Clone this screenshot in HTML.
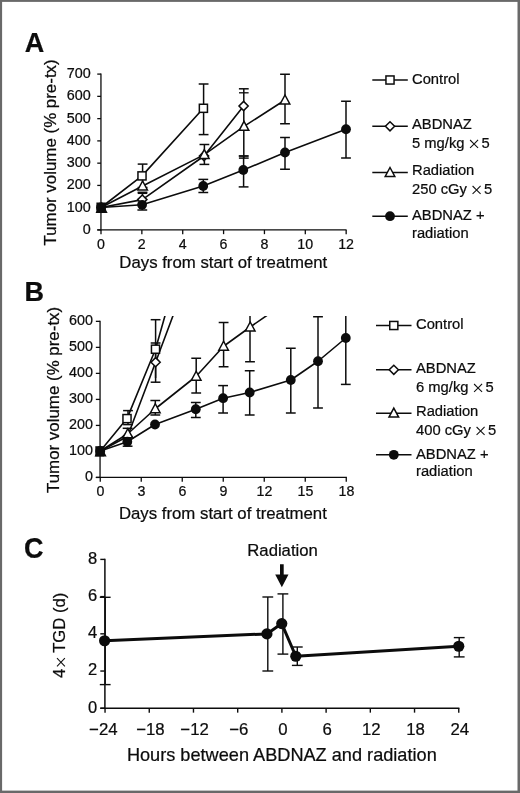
<!DOCTYPE html>
<html lang="en"><head><meta charset="utf-8"><title>Figure</title>
<style>
html,body{margin:0;padding:0;background:#fff;}
body{width:520px;height:793px;overflow:hidden;}
svg{display:block;}
svg text{font-family:"Liberation Sans",Arial,Helvetica,sans-serif;fill:#0c0c0c;stroke:#0c0c0c;stroke-width:0.22px;}
</style></head><body>
<svg width="520" height="793" viewBox="0 0 520 793">
<rect x="0" y="0" width="520" height="793" fill="#696969"/>
<rect x="2.1" y="1.9" width="515.4" height="788.7" fill="#fff"/>
<text x="24.80" y="51.50" font-size="27" text-anchor="start" font-weight="bold" stroke="#0c0c0c" stroke-width="0.5">A</text>
<line x1="100.95" y1="73.50" x2="100.95" y2="230.55" stroke="#0c0c0c" stroke-width="1.3" />
<line x1="97.25" y1="229.95" x2="346.60" y2="229.95" stroke="#0c0c0c" stroke-width="1.3" />
<line x1="97.25" y1="229.95" x2="100.95" y2="229.95" stroke="#0c0c0c" stroke-width="1.3" />
<text x="90.70" y="233.85" font-size="14.35" text-anchor="end" font-weight="normal" >0</text>
<line x1="97.25" y1="207.69" x2="100.95" y2="207.69" stroke="#0c0c0c" stroke-width="1.3" />
<text x="90.70" y="211.59" font-size="14.35" text-anchor="end" font-weight="normal" >100</text>
<line x1="97.25" y1="185.42" x2="100.95" y2="185.42" stroke="#0c0c0c" stroke-width="1.3" />
<text x="90.70" y="189.32" font-size="14.35" text-anchor="end" font-weight="normal" >200</text>
<line x1="97.25" y1="163.16" x2="100.95" y2="163.16" stroke="#0c0c0c" stroke-width="1.3" />
<text x="90.70" y="167.06" font-size="14.35" text-anchor="end" font-weight="normal" >300</text>
<line x1="97.25" y1="140.89" x2="100.95" y2="140.89" stroke="#0c0c0c" stroke-width="1.3" />
<text x="90.70" y="144.79" font-size="14.35" text-anchor="end" font-weight="normal" >400</text>
<line x1="97.25" y1="118.63" x2="100.95" y2="118.63" stroke="#0c0c0c" stroke-width="1.3" />
<text x="90.70" y="122.53" font-size="14.35" text-anchor="end" font-weight="normal" >500</text>
<line x1="97.25" y1="96.36" x2="100.95" y2="96.36" stroke="#0c0c0c" stroke-width="1.3" />
<text x="90.70" y="100.26" font-size="14.35" text-anchor="end" font-weight="normal" >600</text>
<line x1="97.25" y1="74.10" x2="100.95" y2="74.10" stroke="#0c0c0c" stroke-width="1.3" />
<text x="90.70" y="78.00" font-size="14.35" text-anchor="end" font-weight="normal" >700</text>
<line x1="101.00" y1="229.95" x2="101.00" y2="234.15" stroke="#0c0c0c" stroke-width="1.3" />
<text x="100.90" y="249.30" font-size="14.2" text-anchor="middle" font-weight="normal" >0</text>
<line x1="141.86" y1="229.95" x2="141.86" y2="234.15" stroke="#0c0c0c" stroke-width="1.3" />
<text x="141.76" y="249.30" font-size="14.2" text-anchor="middle" font-weight="normal" >2</text>
<line x1="182.72" y1="229.95" x2="182.72" y2="234.15" stroke="#0c0c0c" stroke-width="1.3" />
<text x="182.62" y="249.30" font-size="14.2" text-anchor="middle" font-weight="normal" >4</text>
<line x1="223.58" y1="229.95" x2="223.58" y2="234.15" stroke="#0c0c0c" stroke-width="1.3" />
<text x="223.48" y="249.30" font-size="14.2" text-anchor="middle" font-weight="normal" >6</text>
<line x1="264.44" y1="229.95" x2="264.44" y2="234.15" stroke="#0c0c0c" stroke-width="1.3" />
<text x="264.34" y="249.30" font-size="14.2" text-anchor="middle" font-weight="normal" >8</text>
<line x1="305.30" y1="229.95" x2="305.30" y2="234.15" stroke="#0c0c0c" stroke-width="1.3" />
<text x="305.20" y="249.30" font-size="14.2" text-anchor="middle" font-weight="normal" >10</text>
<line x1="346.16" y1="229.95" x2="346.16" y2="234.15" stroke="#0c0c0c" stroke-width="1.3" />
<text x="346.06" y="249.30" font-size="14.2" text-anchor="middle" font-weight="normal" >12</text>
<text transform="translate(55.80,245.50) rotate(-90)" font-size="16.9">Tumor volume (% pre-tx)</text>
<text x="119.30" y="268.00" font-size="16.8" text-anchor="start" font-weight="normal" >Days from start of treatment</text>
<line x1="142.60" y1="164.10" x2="142.60" y2="187.50" stroke="#0c0c0c" stroke-width="1.5" />
<line x1="137.70" y1="164.10" x2="147.50" y2="164.10" stroke="#0c0c0c" stroke-width="1.5" />
<line x1="137.70" y1="187.50" x2="147.50" y2="187.50" stroke="#0c0c0c" stroke-width="1.5" />
<line x1="203.60" y1="84.00" x2="203.60" y2="134.60" stroke="#0c0c0c" stroke-width="1.5" />
<line x1="198.70" y1="84.00" x2="208.50" y2="84.00" stroke="#0c0c0c" stroke-width="1.5" />
<line x1="198.70" y1="134.60" x2="208.50" y2="134.60" stroke="#0c0c0c" stroke-width="1.5" />
<line x1="142.50" y1="192.30" x2="142.50" y2="207.00" stroke="#0c0c0c" stroke-width="1.5" />
<line x1="137.60" y1="192.30" x2="147.40" y2="192.30" stroke="#0c0c0c" stroke-width="1.5" />
<line x1="137.70" y1="193.40" x2="147.30" y2="193.40" stroke="#0c0c0c" stroke-width="1.3" />
<line x1="204.40" y1="144.50" x2="204.40" y2="164.40" stroke="#0c0c0c" stroke-width="1.5" />
<line x1="199.50" y1="144.50" x2="209.30" y2="144.50" stroke="#0c0c0c" stroke-width="1.5" />
<line x1="199.50" y1="164.40" x2="209.30" y2="164.40" stroke="#0c0c0c" stroke-width="1.5" />
<line x1="243.80" y1="88.80" x2="243.80" y2="158.10" stroke="#0c0c0c" stroke-width="1.5" />
<line x1="238.90" y1="88.80" x2="248.70" y2="88.80" stroke="#0c0c0c" stroke-width="1.5" />
<line x1="238.90" y1="158.10" x2="248.70" y2="158.10" stroke="#0c0c0c" stroke-width="1.5" />
<line x1="239.00" y1="92.80" x2="248.60" y2="92.80" stroke="#0c0c0c" stroke-width="1.3" />
<line x1="239.00" y1="156.00" x2="248.60" y2="156.00" stroke="#0c0c0c" stroke-width="1.3" />
<line x1="285.00" y1="74.25" x2="285.00" y2="123.75" stroke="#0c0c0c" stroke-width="1.5" />
<line x1="280.10" y1="74.25" x2="289.90" y2="74.25" stroke="#0c0c0c" stroke-width="1.5" />
<line x1="280.10" y1="123.75" x2="289.90" y2="123.75" stroke="#0c0c0c" stroke-width="1.5" />
<line x1="142.30" y1="199.60" x2="142.30" y2="210.00" stroke="#0c0c0c" stroke-width="1.5" />
<line x1="137.40" y1="199.60" x2="147.20" y2="199.60" stroke="#0c0c0c" stroke-width="1.5" />
<line x1="137.40" y1="210.00" x2="147.20" y2="210.00" stroke="#0c0c0c" stroke-width="1.5" />
<line x1="203.30" y1="179.40" x2="203.30" y2="192.50" stroke="#0c0c0c" stroke-width="1.5" />
<line x1="198.40" y1="179.40" x2="208.20" y2="179.40" stroke="#0c0c0c" stroke-width="1.5" />
<line x1="198.40" y1="192.50" x2="208.20" y2="192.50" stroke="#0c0c0c" stroke-width="1.5" />
<line x1="243.60" y1="156.00" x2="243.60" y2="186.90" stroke="#0c0c0c" stroke-width="1.5" />
<line x1="238.70" y1="156.00" x2="248.50" y2="156.00" stroke="#0c0c0c" stroke-width="1.5" />
<line x1="238.70" y1="186.90" x2="248.50" y2="186.90" stroke="#0c0c0c" stroke-width="1.5" />
<line x1="285.00" y1="137.50" x2="285.00" y2="169.25" stroke="#0c0c0c" stroke-width="1.5" />
<line x1="280.10" y1="137.50" x2="289.90" y2="137.50" stroke="#0c0c0c" stroke-width="1.5" />
<line x1="280.10" y1="169.25" x2="289.90" y2="169.25" stroke="#0c0c0c" stroke-width="1.5" />
<line x1="346.00" y1="101.25" x2="346.00" y2="158.00" stroke="#0c0c0c" stroke-width="1.5" />
<line x1="341.10" y1="101.25" x2="350.90" y2="101.25" stroke="#0c0c0c" stroke-width="1.5" />
<line x1="341.10" y1="158.00" x2="350.90" y2="158.00" stroke="#0c0c0c" stroke-width="1.5" />
<polyline points="101.00,207.50 142.00,175.90 203.40,108.30" fill="none" stroke="#0c0c0c" stroke-width="1.6" stroke-linejoin="round"/>
<polyline points="101.00,207.50 142.30,199.60 204.00,156.00 243.60,106.00" fill="none" stroke="#0c0c0c" stroke-width="1.6" stroke-linejoin="round"/>
<polyline points="101.00,207.50 142.60,186.00 204.30,154.60 244.00,126.40 285.00,100.00" fill="none" stroke="#0c0c0c" stroke-width="1.6" stroke-linejoin="round"/>
<polyline points="101.00,207.50 142.10,204.80 203.20,186.00 243.30,170.00 285.00,152.50 346.00,129.25" fill="none" stroke="#0c0c0c" stroke-width="1.6" stroke-linejoin="round"/>
<rect x="96.4" y="202.5" width="9.4" height="10.4" fill="#0c0c0c"/>
<rect x="137.95" y="171.85" width="8.1" height="8.1" fill="#fff" stroke="#0c0c0c" stroke-width="1.5"/>
<rect x="199.35" y="104.25" width="8.1" height="8.1" fill="#fff" stroke="#0c0c0c" stroke-width="1.5"/>
<polygon points="142.30,195.00 146.90,199.60 142.30,204.20 137.70,199.60" fill="#fff" stroke="#0c0c0c" stroke-width="1.5"/>
<polygon points="204.00,151.40 208.60,156.00 204.00,160.60 199.40,156.00" fill="#fff" stroke="#0c0c0c" stroke-width="1.5"/>
<polygon points="243.60,101.40 248.20,106.00 243.60,110.60 239.00,106.00" fill="#fff" stroke="#0c0c0c" stroke-width="1.5"/>
<polygon points="142.60,181.00 147.40,189.90 137.80,189.90" fill="#fff" stroke="#0c0c0c" stroke-width="1.5"/>
<polygon points="204.30,149.60 209.10,158.50 199.50,158.50" fill="#fff" stroke="#0c0c0c" stroke-width="1.5"/>
<polygon points="244.00,121.40 248.80,130.30 239.20,130.30" fill="#fff" stroke="#0c0c0c" stroke-width="1.5"/>
<polygon points="285.00,95.00 289.80,103.90 280.20,103.90" fill="#fff" stroke="#0c0c0c" stroke-width="1.5"/>
<polygon points="101.60,203.30 106.40,212.20 96.80,212.20" fill="#0c0c0c" stroke="#0c0c0c" stroke-width="1.5"/>
<circle cx="101.00" cy="207.50" r="4.9" fill="#0c0c0c"/>
<circle cx="142.10" cy="204.80" r="4.9" fill="#0c0c0c"/>
<circle cx="203.20" cy="186.00" r="4.9" fill="#0c0c0c"/>
<circle cx="243.30" cy="170.00" r="4.9" fill="#0c0c0c"/>
<circle cx="285.00" cy="152.50" r="4.9" fill="#0c0c0c"/>
<circle cx="346.00" cy="129.25" r="4.9" fill="#0c0c0c"/>
<line x1="372.30" y1="80.00" x2="407.80" y2="80.00" stroke="#0c0c0c" stroke-width="1.6" />
<rect x="385.95" y="75.95" width="8.1" height="8.1" fill="#fff" stroke="#0c0c0c" stroke-width="1.5"/>
<text x="412.00" y="84.00" font-size="14.75" text-anchor="start" font-weight="normal" >Control</text>
<line x1="372.30" y1="126.30" x2="407.80" y2="126.30" stroke="#0c0c0c" stroke-width="1.6" />
<polygon points="390.00,121.70 394.60,126.30 390.00,130.90 385.40,126.30" fill="#fff" stroke="#0c0c0c" stroke-width="1.5"/>
<text x="412.00" y="129.20" font-size="14.75" text-anchor="start" font-weight="normal" >ABDNAZ</text>
<line x1="372.30" y1="172.50" x2="407.80" y2="172.50" stroke="#0c0c0c" stroke-width="1.6" />
<polygon points="390.00,167.50 394.80,176.40 385.20,176.40" fill="#fff" stroke="#0c0c0c" stroke-width="1.5"/>
<text x="412.00" y="175.20" font-size="14.75" text-anchor="start" font-weight="normal" >Radiation</text>
<line x1="372.30" y1="216.20" x2="407.80" y2="216.20" stroke="#0c0c0c" stroke-width="1.6" />
<circle cx="390.00" cy="216.20" r="4.9" fill="#0c0c0c"/>
<text x="412.00" y="220.20" font-size="14.75" text-anchor="start" font-weight="normal" >ABDNAZ +</text>
<text x="412.00" y="147.70" font-size="14.75" text-anchor="start" font-weight="normal" >5 mg/kg <tspan stroke="none" font-family="Liberation Serif,serif" font-size="21.5" dy="3.7" dx="-0.6">×</tspan><tspan dy="-3.7" dx="-2.8"> </tspan>5</text>
<text x="412.00" y="193.70" font-size="14.75" text-anchor="start" font-weight="normal" >250 cGy <tspan stroke="none" font-family="Liberation Serif,serif" font-size="21.5" dy="3.7" dx="-0.6">×</tspan><tspan dy="-3.7" dx="-2.8"> </tspan>5</text>
<text x="412.00" y="238.00" font-size="14.75" text-anchor="start" font-weight="normal" >radiation</text>
<text x="24.40" y="301.00" font-size="27" text-anchor="start" font-weight="bold" stroke="#0c0c0c" stroke-width="0.5">B</text>
<line x1="100.05" y1="320.75" x2="100.05" y2="478.05" stroke="#0c0c0c" stroke-width="1.3" />
<line x1="95.85" y1="477.45" x2="346.90" y2="477.45" stroke="#0c0c0c" stroke-width="1.3" />
<line x1="95.85" y1="477.45" x2="100.05" y2="477.45" stroke="#0c0c0c" stroke-width="1.3" />
<text x="93.00" y="481.25" font-size="14.35" text-anchor="end" font-weight="normal" >0</text>
<line x1="95.85" y1="451.43" x2="100.05" y2="451.43" stroke="#0c0c0c" stroke-width="1.3" />
<text x="93.00" y="455.23" font-size="14.35" text-anchor="end" font-weight="normal" >100</text>
<line x1="95.85" y1="425.42" x2="100.05" y2="425.42" stroke="#0c0c0c" stroke-width="1.3" />
<text x="93.00" y="429.22" font-size="14.35" text-anchor="end" font-weight="normal" >200</text>
<line x1="95.85" y1="399.40" x2="100.05" y2="399.40" stroke="#0c0c0c" stroke-width="1.3" />
<text x="93.00" y="403.20" font-size="14.35" text-anchor="end" font-weight="normal" >300</text>
<line x1="95.85" y1="373.38" x2="100.05" y2="373.38" stroke="#0c0c0c" stroke-width="1.3" />
<text x="93.00" y="377.18" font-size="14.35" text-anchor="end" font-weight="normal" >400</text>
<line x1="95.85" y1="347.37" x2="100.05" y2="347.37" stroke="#0c0c0c" stroke-width="1.3" />
<text x="93.00" y="351.17" font-size="14.35" text-anchor="end" font-weight="normal" >500</text>
<line x1="95.85" y1="321.35" x2="100.05" y2="321.35" stroke="#0c0c0c" stroke-width="1.3" />
<text x="93.00" y="325.15" font-size="14.35" text-anchor="end" font-weight="normal" >600</text>
<line x1="100.25" y1="477.45" x2="100.25" y2="481.65" stroke="#0c0c0c" stroke-width="1.3" />
<text x="100.45" y="496.30" font-size="14.2" text-anchor="middle" font-weight="normal" >0</text>
<line x1="141.25" y1="477.45" x2="141.25" y2="481.65" stroke="#0c0c0c" stroke-width="1.3" />
<text x="141.45" y="496.30" font-size="14.2" text-anchor="middle" font-weight="normal" >3</text>
<line x1="182.25" y1="477.45" x2="182.25" y2="481.65" stroke="#0c0c0c" stroke-width="1.3" />
<text x="182.45" y="496.30" font-size="14.2" text-anchor="middle" font-weight="normal" >6</text>
<line x1="223.25" y1="477.45" x2="223.25" y2="481.65" stroke="#0c0c0c" stroke-width="1.3" />
<text x="223.45" y="496.30" font-size="14.2" text-anchor="middle" font-weight="normal" >9</text>
<line x1="264.25" y1="477.45" x2="264.25" y2="481.65" stroke="#0c0c0c" stroke-width="1.3" />
<text x="264.45" y="496.30" font-size="14.2" text-anchor="middle" font-weight="normal" >12</text>
<line x1="305.25" y1="477.45" x2="305.25" y2="481.65" stroke="#0c0c0c" stroke-width="1.3" />
<text x="305.45" y="496.30" font-size="14.2" text-anchor="middle" font-weight="normal" >15</text>
<line x1="346.26" y1="477.45" x2="346.26" y2="481.65" stroke="#0c0c0c" stroke-width="1.3" />
<text x="346.46" y="496.30" font-size="14.2" text-anchor="middle" font-weight="normal" >18</text>
<text transform="translate(58.80,493.00) rotate(-90)" font-size="16.9">Tumor volume (% pre-tx)</text>
<text x="118.90" y="518.80" font-size="16.8" text-anchor="start" font-weight="normal" >Days from start of treatment</text>
<clipPath id="cb"><rect x="90" y="316" width="300" height="170"/></clipPath>
<g clip-path="url(#cb)">
<line x1="128.00" y1="410.60" x2="128.00" y2="424.60" stroke="#0c0c0c" stroke-width="1.5" />
<line x1="123.10" y1="410.60" x2="132.90" y2="410.60" stroke="#0c0c0c" stroke-width="1.5" />
<line x1="123.10" y1="424.60" x2="132.90" y2="424.60" stroke="#0c0c0c" stroke-width="1.5" />
<line x1="155.60" y1="319.70" x2="155.60" y2="378.00" stroke="#0c0c0c" stroke-width="1.5" />
<line x1="150.70" y1="319.70" x2="160.50" y2="319.70" stroke="#0c0c0c" stroke-width="1.5" />
<line x1="155.60" y1="343.00" x2="155.60" y2="382.20" stroke="#0c0c0c" stroke-width="1.5" />
<line x1="150.70" y1="343.00" x2="160.50" y2="343.00" stroke="#0c0c0c" stroke-width="1.5" />
<line x1="150.70" y1="382.20" x2="160.50" y2="382.20" stroke="#0c0c0c" stroke-width="1.5" />
<line x1="127.60" y1="428.30" x2="127.60" y2="446.20" stroke="#0c0c0c" stroke-width="1.5" />
<line x1="122.70" y1="428.30" x2="132.50" y2="428.30" stroke="#0c0c0c" stroke-width="1.5" />
<line x1="122.70" y1="446.20" x2="132.50" y2="446.20" stroke="#0c0c0c" stroke-width="1.5" />
<line x1="155.30" y1="400.50" x2="155.30" y2="415.00" stroke="#0c0c0c" stroke-width="1.5" />
<line x1="150.40" y1="400.50" x2="160.20" y2="400.50" stroke="#0c0c0c" stroke-width="1.5" />
<line x1="150.40" y1="415.00" x2="160.20" y2="415.00" stroke="#0c0c0c" stroke-width="1.5" />
<line x1="196.20" y1="358.25" x2="196.20" y2="393.00" stroke="#0c0c0c" stroke-width="1.5" />
<line x1="191.30" y1="358.25" x2="201.10" y2="358.25" stroke="#0c0c0c" stroke-width="1.5" />
<line x1="191.30" y1="393.00" x2="201.10" y2="393.00" stroke="#0c0c0c" stroke-width="1.5" />
<line x1="223.60" y1="322.50" x2="223.60" y2="366.75" stroke="#0c0c0c" stroke-width="1.5" />
<line x1="218.70" y1="322.50" x2="228.50" y2="322.50" stroke="#0c0c0c" stroke-width="1.5" />
<line x1="218.70" y1="366.75" x2="228.50" y2="366.75" stroke="#0c0c0c" stroke-width="1.5" />
<line x1="250.00" y1="300.00" x2="250.00" y2="361.75" stroke="#0c0c0c" stroke-width="1.5" />
<line x1="245.10" y1="300.00" x2="254.90" y2="300.00" stroke="#0c0c0c" stroke-width="1.5" />
<line x1="245.10" y1="361.75" x2="254.90" y2="361.75" stroke="#0c0c0c" stroke-width="1.5" />
<line x1="195.80" y1="402.50" x2="195.80" y2="417.50" stroke="#0c0c0c" stroke-width="1.5" />
<line x1="190.90" y1="402.50" x2="200.70" y2="402.50" stroke="#0c0c0c" stroke-width="1.5" />
<line x1="190.90" y1="417.50" x2="200.70" y2="417.50" stroke="#0c0c0c" stroke-width="1.5" />
<line x1="223.10" y1="385.60" x2="223.10" y2="413.00" stroke="#0c0c0c" stroke-width="1.5" />
<line x1="218.20" y1="385.60" x2="228.00" y2="385.60" stroke="#0c0c0c" stroke-width="1.5" />
<line x1="218.20" y1="413.00" x2="228.00" y2="413.00" stroke="#0c0c0c" stroke-width="1.5" />
<line x1="249.70" y1="370.75" x2="249.70" y2="415.00" stroke="#0c0c0c" stroke-width="1.5" />
<line x1="244.80" y1="370.75" x2="254.60" y2="370.75" stroke="#0c0c0c" stroke-width="1.5" />
<line x1="244.80" y1="415.00" x2="254.60" y2="415.00" stroke="#0c0c0c" stroke-width="1.5" />
<line x1="290.80" y1="348.25" x2="290.80" y2="413.00" stroke="#0c0c0c" stroke-width="1.5" />
<line x1="285.90" y1="348.25" x2="295.70" y2="348.25" stroke="#0c0c0c" stroke-width="1.5" />
<line x1="285.90" y1="413.00" x2="295.70" y2="413.00" stroke="#0c0c0c" stroke-width="1.5" />
<line x1="318.00" y1="316.75" x2="318.00" y2="408.00" stroke="#0c0c0c" stroke-width="1.5" />
<line x1="313.10" y1="316.75" x2="322.90" y2="316.75" stroke="#0c0c0c" stroke-width="1.5" />
<line x1="313.10" y1="408.00" x2="322.90" y2="408.00" stroke="#0c0c0c" stroke-width="1.5" />
<line x1="345.80" y1="300.00" x2="345.80" y2="384.40" stroke="#0c0c0c" stroke-width="1.5" />
<line x1="340.90" y1="300.00" x2="350.70" y2="300.00" stroke="#0c0c0c" stroke-width="1.5" />
<line x1="340.90" y1="384.40" x2="350.70" y2="384.40" stroke="#0c0c0c" stroke-width="1.5" />
<polyline points="100.30,451.00 127.00,418.60 155.50,349.20 168.60,303.00" fill="none" stroke="#0c0c0c" stroke-width="1.6" stroke-linejoin="round"/>
<polyline points="100.30,451.00 127.50,436.50 155.60,362.20 177.20,304.50" fill="none" stroke="#0c0c0c" stroke-width="1.6" stroke-linejoin="round"/>
<polyline points="100.30,451.00 127.80,433.75 155.30,408.75 196.20,376.25 223.60,346.25 250.20,327.00 277.00,308.50" fill="none" stroke="#0c0c0c" stroke-width="1.6" stroke-linejoin="round"/>
<polyline points="100.30,451.00 127.30,441.70 155.00,424.50 195.80,409.25 223.10,398.20 249.70,392.50 290.80,380.00 318.00,361.25 345.80,338.00" fill="none" stroke="#0c0c0c" stroke-width="1.6" stroke-linejoin="round"/>
<rect x="95.3" y="446.2" width="8.8" height="10.2" fill="#0c0c0c"/>
<rect x="122.95" y="414.55" width="8.1" height="8.1" fill="#fff" stroke="#0c0c0c" stroke-width="1.5"/>
<rect x="151.45" y="345.15" width="8.1" height="8.1" fill="#fff" stroke="#0c0c0c" stroke-width="1.5"/>
<polygon points="127.50,431.90 132.10,436.50 127.50,441.10 122.90,436.50" fill="#fff" stroke="#0c0c0c" stroke-width="1.5"/>
<polygon points="155.60,357.60 160.20,362.20 155.60,366.80 151.00,362.20" fill="#fff" stroke="#0c0c0c" stroke-width="1.5"/>
<polygon points="127.80,428.75 132.60,437.65 123.00,437.65" fill="#fff" stroke="#0c0c0c" stroke-width="1.5"/>
<polygon points="155.30,403.75 160.10,412.65 150.50,412.65" fill="#fff" stroke="#0c0c0c" stroke-width="1.5"/>
<polygon points="196.20,371.25 201.00,380.15 191.40,380.15" fill="#fff" stroke="#0c0c0c" stroke-width="1.5"/>
<polygon points="223.60,341.25 228.40,350.15 218.80,350.15" fill="#fff" stroke="#0c0c0c" stroke-width="1.5"/>
<polygon points="250.20,322.00 255.00,330.90 245.40,330.90" fill="#fff" stroke="#0c0c0c" stroke-width="1.5"/>
<polygon points="100.60,446.80 105.40,455.70 95.80,455.70" fill="#0c0c0c" stroke="#0c0c0c" stroke-width="1.5"/>
<circle cx="100.30" cy="451.00" r="4.9" fill="#0c0c0c"/>
<circle cx="127.30" cy="441.70" r="4.9" fill="#0c0c0c"/>
<circle cx="155.00" cy="424.50" r="4.9" fill="#0c0c0c"/>
<circle cx="195.80" cy="409.25" r="4.9" fill="#0c0c0c"/>
<circle cx="223.10" cy="398.20" r="4.9" fill="#0c0c0c"/>
<circle cx="249.70" cy="392.50" r="4.9" fill="#0c0c0c"/>
<circle cx="290.80" cy="380.00" r="4.9" fill="#0c0c0c"/>
<circle cx="318.00" cy="361.25" r="4.9" fill="#0c0c0c"/>
<circle cx="345.80" cy="338.00" r="4.9" fill="#0c0c0c"/>
</g>
<line x1="376.00" y1="325.50" x2="411.50" y2="325.50" stroke="#0c0c0c" stroke-width="1.6" />
<rect x="389.75" y="321.45" width="8.1" height="8.1" fill="#fff" stroke="#0c0c0c" stroke-width="1.5"/>
<text x="416.00" y="329.20" font-size="14.75" text-anchor="start" font-weight="normal" >Control</text>
<line x1="376.00" y1="369.80" x2="411.50" y2="369.80" stroke="#0c0c0c" stroke-width="1.6" />
<polygon points="393.80,365.20 398.40,369.80 393.80,374.40 389.20,369.80" fill="#fff" stroke="#0c0c0c" stroke-width="1.5"/>
<text x="416.00" y="373.20" font-size="14.75" text-anchor="start" font-weight="normal" >ABDNAZ</text>
<line x1="376.00" y1="413.20" x2="411.50" y2="413.20" stroke="#0c0c0c" stroke-width="1.6" />
<polygon points="393.80,408.20 398.60,417.10 389.00,417.10" fill="#fff" stroke="#0c0c0c" stroke-width="1.5"/>
<text x="416.00" y="416.00" font-size="14.75" text-anchor="start" font-weight="normal" >Radiation</text>
<line x1="376.00" y1="454.80" x2="411.50" y2="454.80" stroke="#0c0c0c" stroke-width="1.6" />
<circle cx="393.80" cy="454.80" r="4.9" fill="#0c0c0c"/>
<text x="416.00" y="458.50" font-size="14.75" text-anchor="start" font-weight="normal" >ABDNAZ +</text>
<text x="416.00" y="391.70" font-size="14.75" text-anchor="start" font-weight="normal" >6 mg/kg <tspan stroke="none" font-family="Liberation Serif,serif" font-size="21.5" dy="3.7" dx="-0.6">×</tspan><tspan dy="-3.7" dx="-2.8"> </tspan>5</text>
<text x="416.00" y="434.50" font-size="14.75" text-anchor="start" font-weight="normal" >400 cGy <tspan stroke="none" font-family="Liberation Serif,serif" font-size="21.5" dy="3.7" dx="-0.6">×</tspan><tspan dy="-3.7" dx="-2.8"> </tspan>5</text>
<text x="416.00" y="476.30" font-size="14.75" text-anchor="start" font-weight="normal" >radiation</text>
<text transform="translate(23.9,558.2) scale(1,1.09)" font-size="27" font-weight="bold" stroke="#0c0c0c" stroke-width="0.5">C</text>
<line x1="104.90" y1="558.70" x2="104.90" y2="708.95" stroke="#0c0c0c" stroke-width="1.5" />
<line x1="100.30" y1="708.25" x2="459.40" y2="708.25" stroke="#0c0c0c" stroke-width="1.5" />
<line x1="100.30" y1="708.25" x2="104.90" y2="708.25" stroke="#0c0c0c" stroke-width="1.4" />
<text x="97.30" y="712.65" font-size="16.5" text-anchor="end" font-weight="normal" >0</text>
<line x1="100.30" y1="671.04" x2="104.90" y2="671.04" stroke="#0c0c0c" stroke-width="1.4" />
<text x="97.30" y="675.44" font-size="16.5" text-anchor="end" font-weight="normal" >2</text>
<line x1="100.30" y1="633.83" x2="104.90" y2="633.83" stroke="#0c0c0c" stroke-width="1.4" />
<text x="97.30" y="638.23" font-size="16.5" text-anchor="end" font-weight="normal" >4</text>
<line x1="100.30" y1="596.61" x2="104.90" y2="596.61" stroke="#0c0c0c" stroke-width="1.4" />
<text x="97.30" y="601.01" font-size="16.5" text-anchor="end" font-weight="normal" >6</text>
<line x1="100.30" y1="559.40" x2="104.90" y2="559.40" stroke="#0c0c0c" stroke-width="1.4" />
<text x="97.30" y="563.80" font-size="16.5" text-anchor="end" font-weight="normal" >8</text>
<line x1="105.04" y1="708.25" x2="105.04" y2="712.65" stroke="#0c0c0c" stroke-width="1.4" />
<text x="103.34" y="734.60" font-size="16.8" text-anchor="middle" font-weight="normal" >−24</text>
<line x1="149.26" y1="708.25" x2="149.26" y2="712.65" stroke="#0c0c0c" stroke-width="1.4" />
<text x="150.36" y="734.60" font-size="16.8" text-anchor="middle" font-weight="normal" >−18</text>
<line x1="193.47" y1="708.25" x2="193.47" y2="712.65" stroke="#0c0c0c" stroke-width="1.4" />
<text x="194.57" y="734.60" font-size="16.8" text-anchor="middle" font-weight="normal" >−12</text>
<line x1="237.69" y1="708.25" x2="237.69" y2="712.65" stroke="#0c0c0c" stroke-width="1.4" />
<text x="238.79" y="734.60" font-size="16.8" text-anchor="middle" font-weight="normal" >−6</text>
<line x1="281.90" y1="708.25" x2="281.90" y2="712.65" stroke="#0c0c0c" stroke-width="1.4" />
<text x="282.90" y="734.60" font-size="16.8" text-anchor="middle" font-weight="normal" >0</text>
<line x1="326.11" y1="708.25" x2="326.11" y2="712.65" stroke="#0c0c0c" stroke-width="1.4" />
<text x="327.11" y="734.60" font-size="16.8" text-anchor="middle" font-weight="normal" >6</text>
<line x1="370.33" y1="708.25" x2="370.33" y2="712.65" stroke="#0c0c0c" stroke-width="1.4" />
<text x="371.33" y="734.60" font-size="16.8" text-anchor="middle" font-weight="normal" >12</text>
<line x1="414.54" y1="708.25" x2="414.54" y2="712.65" stroke="#0c0c0c" stroke-width="1.4" />
<text x="415.54" y="734.60" font-size="16.8" text-anchor="middle" font-weight="normal" >18</text>
<line x1="458.76" y1="708.25" x2="458.76" y2="712.65" stroke="#0c0c0c" stroke-width="1.4" />
<text x="459.76" y="734.60" font-size="16.8" text-anchor="middle" font-weight="normal" >24</text>
<text transform="translate(65.10,677.90) rotate(-90)" font-size="16.7">4<tspan stroke="none" font-family="Liberation Serif,serif" font-size="22" dy="2.8">×</tspan><tspan dy="-2.8" dx="-1"> TGD (d)</tspan></text>
<text x="126.90" y="760.80" font-size="18.17" text-anchor="start" font-weight="normal" >Hours between ABDNAZ and radiation</text>
<text x="247.30" y="555.60" font-size="16.7" text-anchor="start" font-weight="normal" >Radiation</text>
<path d="M280.0 564.2 H283.7 V574.4 H288.5 L281.85 587.3 L275.2 574.4 H280.0 Z" fill="#0c0c0c"/>
<line x1="105.20" y1="597.30" x2="105.20" y2="684.60" stroke="#0c0c0c" stroke-width="1.4" />
<line x1="99.80" y1="597.30" x2="110.60" y2="597.30" stroke="#0c0c0c" stroke-width="1.4" />
<line x1="99.80" y1="684.60" x2="110.60" y2="684.60" stroke="#0c0c0c" stroke-width="1.4" />
<line x1="267.80" y1="597.00" x2="267.80" y2="671.00" stroke="#0c0c0c" stroke-width="1.4" />
<line x1="262.40" y1="597.00" x2="273.20" y2="597.00" stroke="#0c0c0c" stroke-width="1.4" />
<line x1="262.40" y1="671.00" x2="273.20" y2="671.00" stroke="#0c0c0c" stroke-width="1.4" />
<line x1="282.90" y1="593.90" x2="282.90" y2="654.10" stroke="#0c0c0c" stroke-width="1.4" />
<line x1="277.50" y1="593.90" x2="288.30" y2="593.90" stroke="#0c0c0c" stroke-width="1.4" />
<line x1="277.50" y1="654.10" x2="288.30" y2="654.10" stroke="#0c0c0c" stroke-width="1.4" />
<line x1="297.30" y1="647.00" x2="297.30" y2="665.40" stroke="#0c0c0c" stroke-width="1.4" />
<line x1="291.90" y1="647.00" x2="302.70" y2="647.00" stroke="#0c0c0c" stroke-width="1.4" />
<line x1="291.90" y1="665.40" x2="302.70" y2="665.40" stroke="#0c0c0c" stroke-width="1.4" />
<line x1="459.20" y1="637.60" x2="459.20" y2="656.90" stroke="#0c0c0c" stroke-width="1.4" />
<line x1="453.80" y1="637.60" x2="464.60" y2="637.60" stroke="#0c0c0c" stroke-width="1.4" />
<line x1="453.80" y1="656.90" x2="464.60" y2="656.90" stroke="#0c0c0c" stroke-width="1.4" />
<polyline points="104.60,640.75 266.90,633.90 281.75,623.60 295.80,656.25 458.75,646.25" fill="none" stroke="#0c0c0c" stroke-width="3.0" stroke-linejoin="round"/>
<circle cx="104.60" cy="640.75" r="5.6" fill="#0c0c0c"/>
<circle cx="266.90" cy="633.90" r="5.6" fill="#0c0c0c"/>
<circle cx="281.75" cy="623.60" r="5.6" fill="#0c0c0c"/>
<circle cx="295.80" cy="656.25" r="5.6" fill="#0c0c0c"/>
<circle cx="458.75" cy="646.25" r="5.6" fill="#0c0c0c"/>
</svg>
</body></html>
